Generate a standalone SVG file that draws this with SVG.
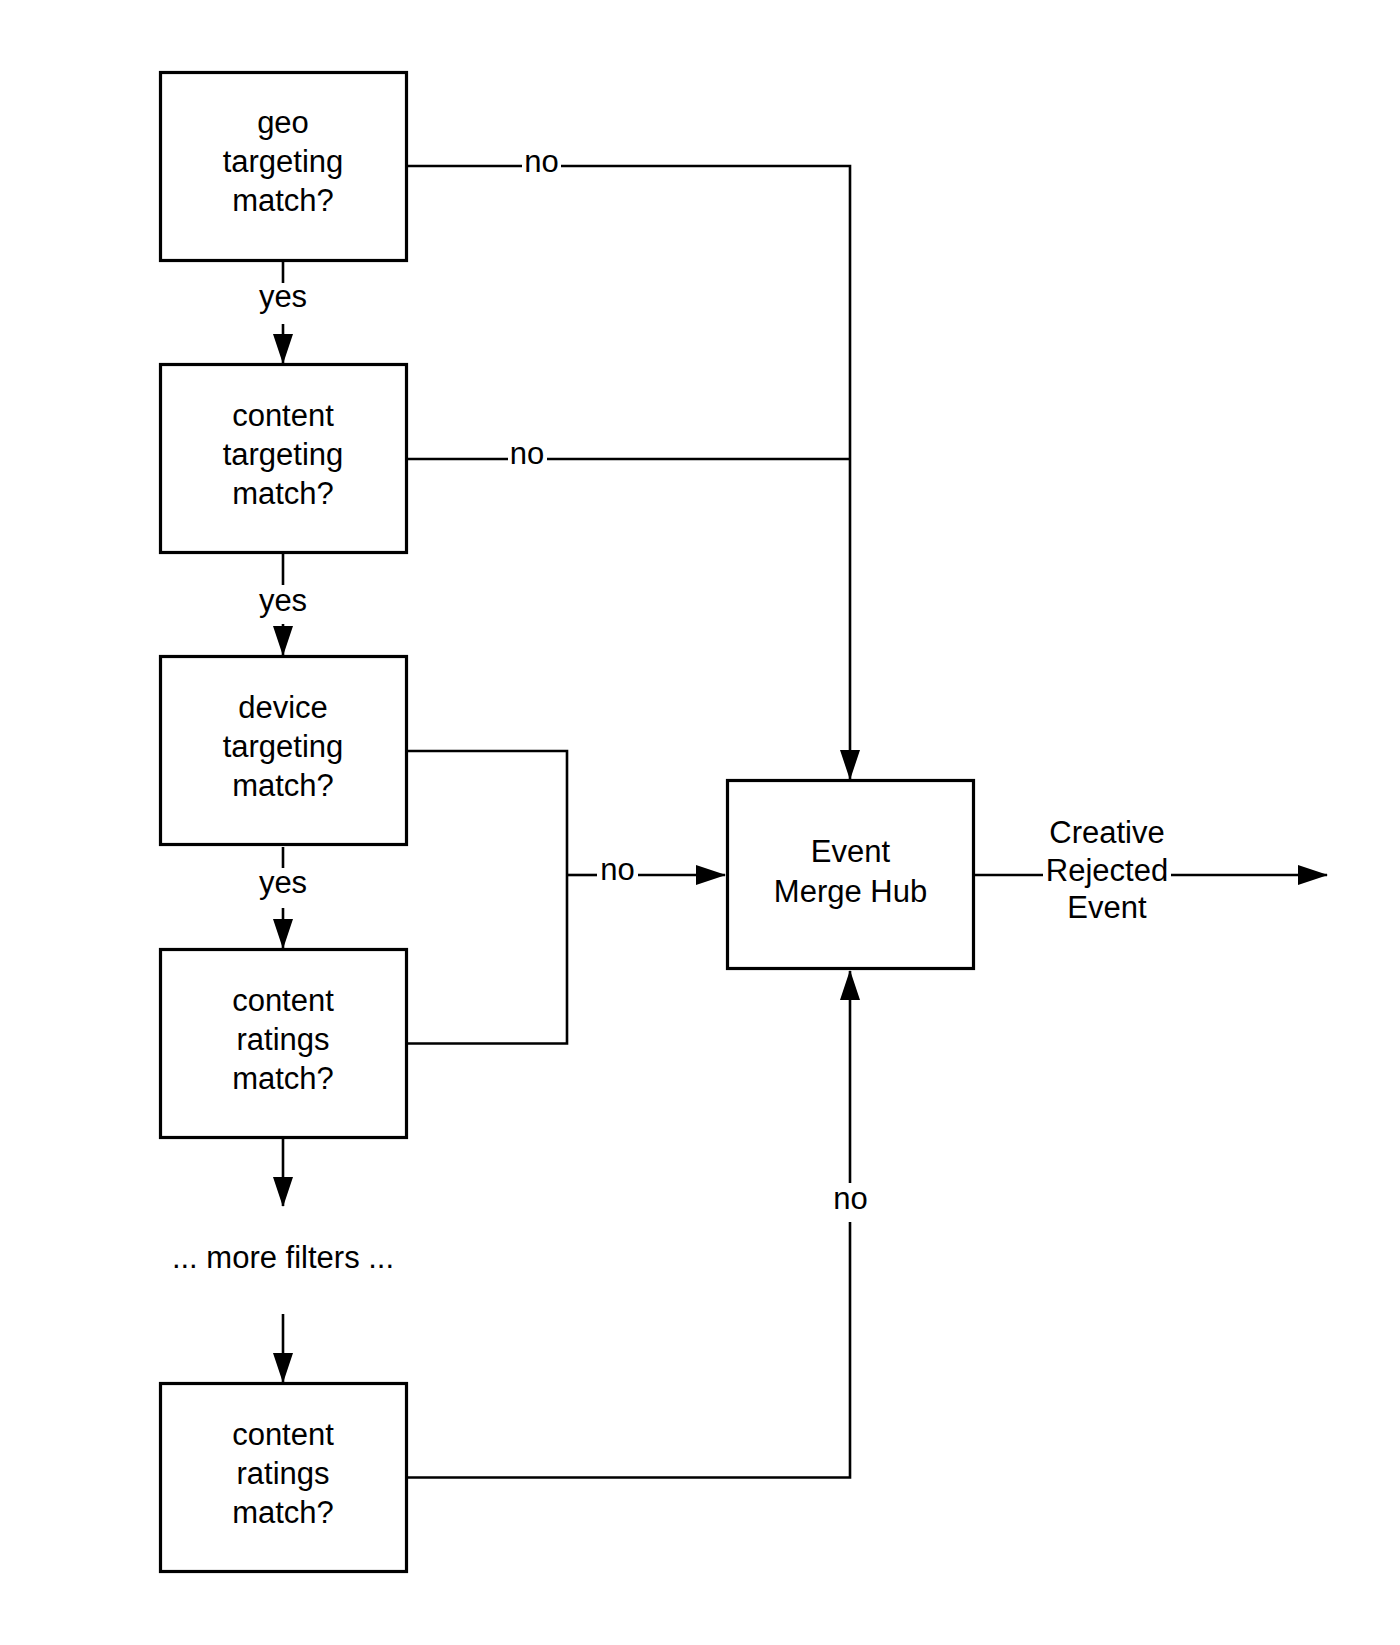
<svg xmlns="http://www.w3.org/2000/svg" width="1400" height="1645" viewBox="0 0 1400 1645">
  <defs>
    <marker id="arrow" markerUnits="userSpaceOnUse" markerWidth="30" markerHeight="20" refX="29" refY="10" orient="auto">
      <path d="M0,0 L30,10 L0,20 Z" fill="#000"/>
    </marker>
    <style>
      .box { fill: #fff; stroke: #000; stroke-width: 3.2; }
      .conn { fill: none; stroke: #000; stroke-width: 2.6; }
      .arr { marker-end: url(#arrow); }
      text { font-family: "Liberation Sans", Arial, sans-serif; font-size: 31px; fill: #000; text-anchor: middle; }
    </style>
  </defs>
  <rect width="1400" height="1645" fill="#fff"/>

  <g id="connectors">
    <!-- geo no -->
    <path class="conn" d="M408,166 H522"/>
    <path class="conn arr" d="M561,166 H850 V779"/>
    <text x="541.5" y="172">no</text>
    <!-- content targeting no -->
    <path class="conn" d="M408,459 H508"/>
    <path class="conn" d="M547,459 H850"/>
    <text x="527" y="464">no</text>
    <!-- device / content ratings no -->
    <path class="conn" d="M408,751 H567 V1043.5 H408"/>
    <path class="conn" d="M567,875 H597"/>
    <path class="conn arr" d="M638,875 H725"/>
    <text x="617.5" y="880">no</text>
    <!-- output -->
    <path class="conn" d="M975,875 H1043"/>
    <path class="conn arr" d="M1171,875 H1327"/>
    <text x="1107" y="843">Creative</text>
    <text x="1107" y="881">Rejected</text>
    <text x="1107" y="918">Event</text>
    <!-- bottom no -->
    <path class="conn" d="M408,1477.5 H850 V1222"/>
    <path class="conn arr" d="M850,1183 V971"/>
    <text x="850.5" y="1209">no</text>
    <!-- yes arrows -->
    <path class="conn" d="M283,262 V283"/>
    <path class="conn arr" d="M283,324 V363"/>
    <text x="283" y="307">yes</text>
    <path class="conn" d="M283,554 V585"/>
    <path class="conn arr" d="M283,624 V655"/>
    <text x="283" y="611">yes</text>
    <path class="conn" d="M283,847 V868"/>
    <path class="conn arr" d="M283,908 V948"/>
    <text x="283" y="893">yes</text>
    <!-- more filters -->
    <path class="conn arr" d="M283,1139 V1206"/>
    <text x="283" y="1268">... more filters ...</text>
    <path class="conn arr" d="M283,1314 V1382"/>
  </g>

  <g id="geo">
    <rect class="box" x="160.5" y="72.5" width="246" height="188"/>
    <text x="283" y="133">geo</text>
    <text x="283" y="172">targeting</text>
    <text x="283" y="211">match?</text>
  </g>
  <g id="content-targeting">
    <rect class="box" x="160.5" y="364.5" width="246" height="188"/>
    <text x="283" y="425.5">content</text>
    <text x="283" y="464.5">targeting</text>
    <text x="283" y="503.5">match?</text>
  </g>
  <g id="device-targeting">
    <rect class="box" x="160.5" y="656.5" width="246" height="188"/>
    <text x="283" y="717.5">device</text>
    <text x="283" y="756.5">targeting</text>
    <text x="283" y="795.5">match?</text>
  </g>
  <g id="content-ratings">
    <rect class="box" x="160.5" y="949.5" width="246" height="188"/>
    <text x="283" y="1010.5">content</text>
    <text x="283" y="1049.5">ratings</text>
    <text x="283" y="1088.5">match?</text>
  </g>
  <g id="content-ratings-2">
    <rect class="box" x="160.5" y="1383.5" width="246" height="188"/>
    <text x="283" y="1444.5">content</text>
    <text x="283" y="1483.5">ratings</text>
    <text x="283" y="1522.5">match?</text>
  </g>
  <g id="event-merge-hub">
    <rect class="box" x="727.5" y="780.5" width="246" height="188"/>
    <text x="850.5" y="862">Event</text>
    <text x="850.5" y="902">Merge Hub</text>
  </g>
</svg>
